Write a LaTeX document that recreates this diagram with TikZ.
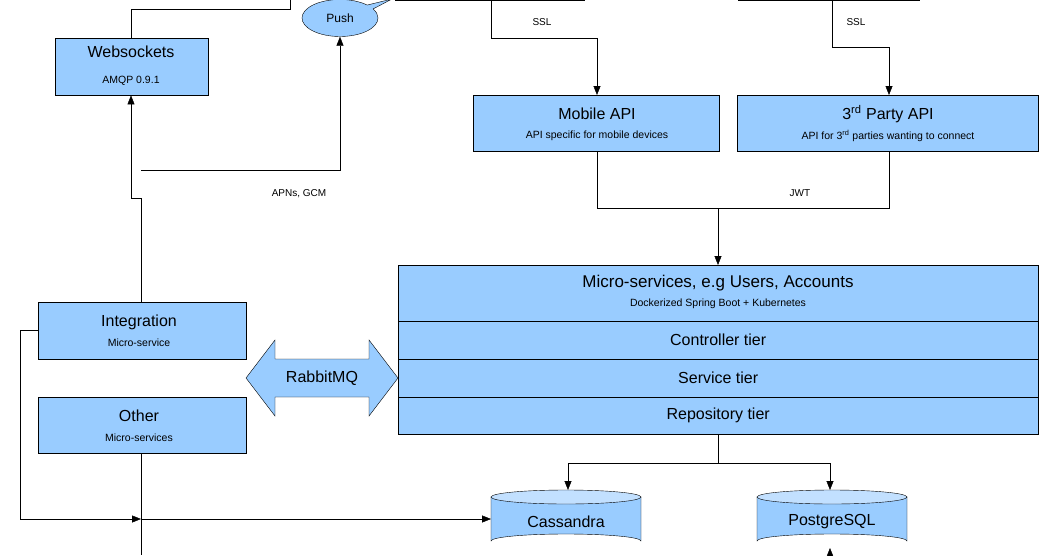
\documentclass[tikz,border=0pt]{standalone}
\usepackage{fontspec}
\setmainfont{Liberation Sans}
\usetikzlibrary{shapes.geometric,shapes.callouts,arrows.meta}
\definecolor{fillb}{HTML}{99CCFF}
\definecolor{filll}{HTML}{C2E0FF}
\begin{document}
\begin{tikzpicture}[x=1pt,y=-1pt,
 box/.style={draw,fill=fillb,inner sep=0,anchor=north west},
 ar/.style={-{Triangle[length=9pt,width=7pt]}},
 lbl/.style={font=\fontsize{10}{12}\selectfont},
 big/.style={font=\fontsize{16}{18}\selectfont},
 sm/.style={font=\fontsize{10.5}{12}\selectfont}]
\useasboundingbox (0,0) rectangle (1058,555);
% boxes
\node[box,minimum width=153,minimum height=57] (ws) at (55,38) {};
\node[big] at (131,52) {Websockets};
\node[sm] at (131,81) {AMQP 0.9.1};
\node[box,minimum width=246,minimum height=56] (mob) at (473,95) {};
\node[big] at (597,114) {Mobile API};
\node[sm] at (597,136) {API specific for mobile devices};
\node[box,minimum width=301,minimum height=56] (tp) at (737,95) {};
\node[big] at (888,114) {3\textsuperscript{rd} Party API};
\node[sm] at (888,136) {API for 3\textsuperscript{rd} parties wanting to connect};
\node[box,minimum width=208,minimum height=57] (int) at (38,302) {};
\node[big] at (139,322) {Integration};
\node[sm] at (139,343) {Micro-service};
\node[box,minimum width=208,minimum height=56] (oth) at (38,397) {};
\node[big] at (139,416) {Other};
\node[sm] at (139,438) {Micro-services};
\node[box,minimum width=640,minimum height=56] (ms) at (398,265) {};
\node[font=\fontsize{17}{20}\selectfont] at (718,283) {Micro-services, e.g Users, Accounts};
\node[sm] at (718,304) {Dockerized Spring Boot + Kubernetes};
\node[box,minimum width=640,minimum height=38] (ct) at (398,321) {\fontsize{16}{18}\selectfont Controller tier};
\node[box,minimum width=640,minimum height=38] (st) at (398,359) {\fontsize{16}{18}\selectfont Service tier};
\node[box,minimum width=640,minimum height=37] (rt) at (398,397) {\fontsize{16}{18}\selectfont Repository tier};
% rabbit
\draw[fill=fillb] (246,378)--(275,340)--(275,359)--(369,359)--(369,340)--(398,378)--(369,416)--(369,397)--(275,397)--(275,416)--cycle;
\node[big] (rmq) at (322,378) {RabbitMQ};
% push
\node[ellipse callout,draw,fill=fillb,minimum width=76,minimum height=37,inner sep=0,callout absolute pointer={(392,-1)}] (push) at (340,18) {\fontsize{12}{14}\selectfont Push};
% cylinders
\foreach \n/\cx/\t in {cas/566/Cassandra,pg/832/PostgreSQL}{
 \draw[fill=fillb] (\cx-75,497) -- (\cx-75,541) arc[start angle=180,end angle=360,x radius=75,y radius=7] -- (\cx+75,497);
 \draw[fill=filll] (\cx,497) ellipse[x radius=75,y radius=7];
 \node[big] (\n) at (\cx,522) {\t};
 \coordinate (\n t) at (\cx,490);
}
\coordinate (casl) at (491,519);
% connectors
\draw (ws.north -| 131,0) ++(0,0) (131,38)--(131,9)--(290,9)--(290,0);
\draw (395,0.5)--(585,0.5) (738,0.5)--(920,0.5);
\draw[ar] (491,0)--(491,38)--(597,38)--(mob.north -| 597,0);
\draw[ar] (832,0)--(832,47)--(889,47)--(tp.north -| 889,0);
\node[lbl] at (542,22) {SSL};
\node[lbl] at (856,22) {SSL};
\draw (597,151)--(597,208)--(889,208)--(889,151);
\draw[ar] (718,208)--(ms.north -| 718,0);
\node[lbl] at (800,193) {JWT};
\draw[ar] (141,302)--(141,198)--(131,198)--(ws.south -| 131,0);
\draw[ar] (141,170)--(340,170)--(push.south);
\node[lbl] at (299,194) {APNs, GCM};
\draw (718,434)--(718,463);
\draw[ar] (718,463)--(568,463)--(568,490);
\draw[ar] (718,463)--(830,463)--(830,490);
\draw[ar] (38,330)--(20,330)--(20,519)--(141,519);
\draw[ar] (141,519)--(casl);
\draw (141,453)--(141,555);
\draw[ar] (830,560)--(830,548);
\end{tikzpicture}
\end{document}
